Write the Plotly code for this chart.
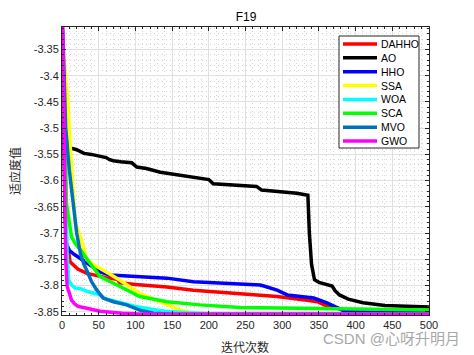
import plotly.graph_objects as go

# ---------------- data ----------------
names = ["DAHHO", "AO", "HHO", "SSA", "WOA", "SCA", "MVO", "GWO"]
colors = ["#FF0000", "#000000", "#0000FF", "#FFFF00", "#00FFFF", "#00FF00", "#0072BD", "#FF00FF"]

dahho_x = [1, 4, 6, 9, 11, 16, 22, 34, 49, 60, 75, 79, 100, 143, 179, 234, 247, 293, 334, 348, 357, 370, 380, 392, 420, 500]
dahho_y = [-3.33, -3.66, -3.72, -3.735, -3.755, -3.762, -3.769, -3.777, -3.782, -3.785, -3.788, -3.795, -3.798, -3.803, -3.809, -3.815, -3.816, -3.821, -3.828, -3.831, -3.837, -3.841, -3.845, -3.849, -3.850, -3.850]

ao_x = [1, 4, 8, 12, 20, 25, 30, 40, 50, 60, 65, 70, 80, 95, 102, 115, 134, 150, 170, 185, 200, 206, 230, 250, 265, 272, 285, 300, 320, 335, 337, 340, 344, 350, 362, 368, 372, 378, 390, 410, 440, 470, 500]
ao_y = [-3.36, -3.50, -3.533, -3.538, -3.541, -3.545, -3.548, -3.550, -3.553, -3.556, -3.560, -3.562, -3.564, -3.566, -3.574, -3.577, -3.584, -3.587, -3.592, -3.595, -3.598, -3.606, -3.608, -3.609, -3.611, -3.618, -3.620, -3.621, -3.624, -3.628, -3.70, -3.76, -3.789, -3.794, -3.798, -3.801, -3.810, -3.818, -3.826, -3.833, -3.838, -3.840, -3.841]

hho_x = [1, 4, 6, 10, 16, 25, 40, 52, 65, 100, 143, 179, 234, 270, 275, 293, 307, 343, 361, 375, 385, 420, 500]
hho_y = [-3.33, -3.65, -3.72, -3.733, -3.740, -3.748, -3.762, -3.774, -3.780, -3.783, -3.786, -3.793, -3.796, -3.799, -3.801, -3.809, -3.818, -3.824, -3.833, -3.843, -3.849, -3.850, -3.851]

ssa_x = [1, 5, 8, 11, 14, 18, 25, 34, 45, 52, 65, 79, 92, 106, 125, 143, 161, 180, 220, 500]
ssa_y = [-3.34, -3.40, -3.45, -3.53, -3.60, -3.68, -3.707, -3.751, -3.762, -3.767, -3.778, -3.790, -3.803, -3.815, -3.826, -3.837, -3.847, -3.853, -3.855, -3.855]

woa_x = [1, 4, 7, 9, 13, 18, 25, 36, 52, 59, 82, 100, 120, 140, 170, 200, 500]
woa_y = [-3.32, -3.55, -3.74, -3.790, -3.799, -3.805, -3.806, -3.812, -3.818, -3.825, -3.834, -3.840, -3.845, -3.849, -3.852, -3.854, -3.855]

sca_x = [1, 4, 6, 10, 13, 18, 25, 38, 52, 79, 106, 143, 188, 243, 300, 400, 450, 500]
sca_y = [-3.32, -3.55, -3.643, -3.68, -3.707, -3.72, -3.732, -3.757, -3.783, -3.802, -3.821, -3.831, -3.837, -3.842, -3.843, -3.844, -3.846, -3.847]

mvo_x = [1, 5, 10, 15, 20, 25, 30, 35, 40, 47, 56, 70, 88, 106, 125, 150, 500]
mvo_y = [-3.31, -3.50, -3.58, -3.64, -3.70, -3.738, -3.760, -3.775, -3.792, -3.808, -3.824, -3.831, -3.837, -3.847, -3.853, -3.855, -3.855]

gwo_x = [1, 3, 5, 7, 10, 13, 17, 22, 29, 45, 52, 82, 100, 150, 500]
gwo_y = [-3.307, -3.55, -3.75, -3.802, -3.815, -3.828, -3.835, -3.840, -3.842, -3.848, -3.849, -3.853, -3.854, -3.855, -3.855]

series_x = [dahho_x, ao_x, hho_x, ssa_x, woa_x, sca_x, mvo_x, gwo_x]
series_y = [dahho_y, ao_y, hho_y, ssa_y, woa_y, sca_y, mvo_y, gwo_y]

x_ticks = [0, 50, 100, 150, 200, 250, 300, 350, 400, 450, 500]
y_ticks = [-3.35, -3.4, -3.45, -3.5, -3.55, -3.6, -3.65, -3.7, -3.75, -3.8, -3.85]

# ---------------- figure ----------------
W, H = 474, 355
L, R, T, B = 62, 45, 27, 40
PW, PH = W - L - R, H - T - B

def px2paper_x(px):
    return (px - L) / PW

def px2paper_y(py):
    return (H - B - py) / PH

fig = go.Figure()
for n, c, xs, ys in zip(names, colors, series_x, series_y):
    fig.add_trace(go.Scatter(x=xs, y=ys, mode="lines", name=n,
                             line=dict(color=c, width=3.5), showlegend=False))

tick_font = dict(family="Liberation Sans, Arial", size=11, color="#262626")
axis_common = dict(
    showline=True, linecolor="#262626", linewidth=1, mirror="ticks",
    ticks="inside", ticklen=4, tickcolor="#262626",
    showgrid=True, gridcolor="#e0e0e0", gridwidth=1,
    zeroline=False, tickfont=tick_font,
)
minor_common = dict(showgrid=True, gridcolor="#d6d6d6", griddash="1px,3px",
                    ticks="inside", ticklen=2, tickcolor="#262626")

fig.update_layout(
    width=W, height=H,
    paper_bgcolor="white", plot_bgcolor="white",
    margin=dict(l=L, r=R, t=T, b=B),
    title=dict(text="F19", x=(246) / W, xanchor="center",
               y=1 - 17 / H, yanchor="middle",
               font=dict(family="Liberation Sans, Arial", size=12, color="#000000")),
    xaxis=dict(range=[0, 500], tickvals=x_ticks, ticktext=[str(v) for v in x_ticks],
               minor=dict(dtick=10, tick0=0, **minor_common), **axis_common),
    yaxis=dict(range=[-3.8563, -3.307], tickvals=y_ticks, ticktext=[str(v) for v in y_ticks],
               minor=dict(dtick=0.01, tick0=-3.35, **minor_common), **axis_common),
    showlegend=False,
)

# ---- custom legend (box, line samples, labels) ----
lx0, lx1, ly0, ly1 = 339, 419, 36, 148
fig.add_shape(type="rect", xref="paper", yref="paper",
              x0=px2paper_x(lx0), x1=px2paper_x(lx1), y0=px2paper_y(ly1), y1=px2paper_y(ly0),
              line=dict(color="#262626", width=1), fillcolor="white", layer="above")
for i, (n, c) in enumerate(zip(names, colors)):
    yc = 44 + i * 13.86
    fig.add_shape(type="line", xref="paper", yref="paper",
                  x0=px2paper_x(343), x1=px2paper_x(377), y0=px2paper_y(yc), y1=px2paper_y(yc),
                  line=dict(color=c, width=3.5), layer="above")
    fig.add_annotation(text=n, xref="paper", yref="paper", x=px2paper_x(379), y=px2paper_y(yc),
                       xanchor="left", yanchor="middle", showarrow=False,
                       font=dict(family="Liberation Sans, Arial", size=10.5, color="#000000"))

fig.add_annotation(text="迭代次数", xref="paper", yref="paper", x=px2paper_x(245), y=px2paper_y(346),
                   xanchor="center", yanchor="middle", showarrow=False,
                   font=dict(family="Noto Sans CJK SC", size=12, color="#262626"))
fig.add_annotation(text="适应度值", xref="paper", yref="paper", x=px2paper_x(14), y=px2paper_y(171),
                   xanchor="center", yanchor="middle", textangle=-90, showarrow=False,
                   font=dict(family="Noto Sans CJK SC", size=12, color="#262626"))
fig.add_annotation(text="CSDN @心呀升明月", xref="paper", yref="paper", x=px2paper_x(462), y=px2paper_y(338),
                   xanchor="right", yanchor="middle", showarrow=False,
                   font=dict(family="Liberation Sans, Noto Sans CJK SC", size=15, color="#a8a8a8"))

fig.write_html("out.html", config={"displayModeBar": False},
               post_script="document.body.style.margin='0';")
